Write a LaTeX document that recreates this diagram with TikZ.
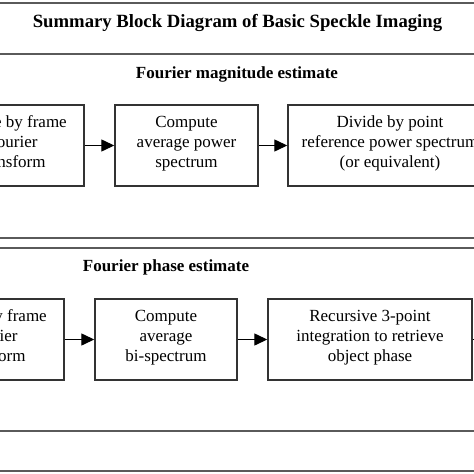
\documentclass[tikz,border=0pt]{standalone}
\usepackage{fontspec}
\setmainfont{Liberation Serif}
\usetikzlibrary{arrows.meta}
\definecolor{rulegray}{HTML}{5A5A5A}
\definecolor{boxgray}{HTML}{333333}
\tikzset{
  stepbox/.style={draw=boxgray, line width=1.4pt, inner sep=0pt, minimum height=81pt,
    align=center, font=\fontsize{17}{20}\selectfont, text=black,
    execute at end node={\rule[-8pt]{0pt}{0pt}}},
  flow/.style={draw=black, line width=1.3pt, -{Triangle[length=13pt,width=12pt]}},
  divider/.style={draw=rulegray, line width=2pt},
  heading/.style={font=\bfseries\fontsize{17}{20}\selectfont, anchor=base, inner sep=0pt},
}
\begin{document}
\begin{tikzpicture}[x=1pt,y=-1pt]
\useasboundingbox (0,0) rectangle (474,474);
\clip (0,0) rectangle (474,474);
\fill[white] (0,0) rectangle (474,474);
% dividers
\coordinate (l1a) at (-5,3);   \coordinate (l1b) at (480,3);
\coordinate (l2a) at (-5,54);  \coordinate (l2b) at (480,54);
\coordinate (l3a) at (-5,238); \coordinate (l3b) at (480,238);
\coordinate (l4a) at (-5,248); \coordinate (l4b) at (480,248);
\coordinate (l5a) at (-5,431); \coordinate (l5b) at (480,431);
\coordinate (l6a) at (-5,471); \coordinate (l6b) at (480,471);
\foreach \i in {1,...,6} { \draw[divider] (l\i a) -- (l\i b); }
% headings
\node[heading, font=\bfseries\fontsize{18.7}{22}\selectfont] (title) at (237.5,27) {Summary Block Diagram of Basic Speckle Imaging};
\node[heading] (mag) at (237,78) {Fourier magnitude estimate};
\node[heading] (phase) at (166,271) {Fourier phase estimate};
% row 1
\node[stepbox, minimum width=143pt] (m1) at (12.5,145.5) {Frame by frame\\Fourier\\transform};
\node[stepbox, minimum width=143pt] (m2) at (186.5,145.5) {Compute\\average power\\spectrum};
\node[stepbox, minimum width=204pt] (m3) at (390,145.5) {Divide by point\\reference power spectrum\\(or equivalent)};
\draw[flow] (m1) -- (m2);
\draw[flow] (m2) -- (m3);
% row 2
\node[stepbox, minimum width=143pt] (p1) at (-7.5,339.5) {Frame by frame\\Fourier\\transform};
\node[stepbox, minimum width=142pt] (p2) at (166,339.5) {Compute\\average\\bi-spectrum};
\node[stepbox, minimum width=204pt] (p3) at (370,339.5) {Recursive 3-point\\integration to retrieve\\object phase};
\coordinate (pout) at (520,339.5);
\draw[flow] (p1) -- (p2);
\draw[flow] (p2) -- (p3);
\draw[flow] (p3) -- (pout);
\end{tikzpicture}
\end{document}
